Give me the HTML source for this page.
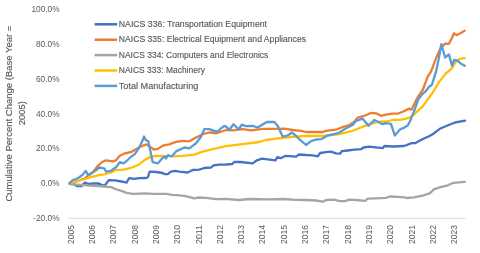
<!DOCTYPE html><html><head><meta charset="utf-8"><style>html,body{margin:0;padding:0;background:#fff;width:480px;height:253px;overflow:hidden}svg{display:block;will-change:transform}text{font-family:"Liberation Sans",sans-serif;fill:#595959}.b{stroke:#595959;stroke-width:0.15px}</style></head><body>
<svg width="480" height="253" viewBox="0 0 480 253">
<line x1="68.4" y1="218.3" x2="465.4" y2="218.3" stroke="#d9d9d9" stroke-width="1"/>
<text x="31.5" y="11.8" font-size="9.3" textLength="28.1" lengthAdjust="spacingAndGlyphs">100.0%</text>
<text x="35.9" y="46.7" font-size="9.3" textLength="23.7" lengthAdjust="spacingAndGlyphs">80.0%</text>
<text x="35.9" y="81.6" font-size="9.3" textLength="23.7" lengthAdjust="spacingAndGlyphs">60.0%</text>
<text x="35.9" y="116.5" font-size="9.3" textLength="23.7" lengthAdjust="spacingAndGlyphs">40.0%</text>
<text x="35.9" y="151.4" font-size="9.3" textLength="23.7" lengthAdjust="spacingAndGlyphs">20.0%</text>
<text x="41.1" y="186.3" font-size="9.3" textLength="18.5" lengthAdjust="spacingAndGlyphs">0.0%</text>
<text x="33.1" y="221.2" font-size="9.3" textLength="26.5" lengthAdjust="spacingAndGlyphs">-20.0%</text>
<text transform="translate(73.7,244) rotate(-90)" font-size="9.3" textLength="19" lengthAdjust="spacingAndGlyphs">2005</text>
<text transform="translate(95.0,244) rotate(-90)" font-size="9.3" textLength="19" lengthAdjust="spacingAndGlyphs">2006</text>
<text transform="translate(116.3,244) rotate(-90)" font-size="9.3" textLength="19" lengthAdjust="spacingAndGlyphs">2007</text>
<text transform="translate(137.6,244) rotate(-90)" font-size="9.3" textLength="19" lengthAdjust="spacingAndGlyphs">2008</text>
<text transform="translate(158.9,244) rotate(-90)" font-size="9.3" textLength="19" lengthAdjust="spacingAndGlyphs">2009</text>
<text transform="translate(180.2,244) rotate(-90)" font-size="9.3" textLength="19" lengthAdjust="spacingAndGlyphs">2010</text>
<text transform="translate(201.5,244) rotate(-90)" font-size="9.3" textLength="19" lengthAdjust="spacingAndGlyphs">2011</text>
<text transform="translate(222.8,244) rotate(-90)" font-size="9.3" textLength="19" lengthAdjust="spacingAndGlyphs">2012</text>
<text transform="translate(244.1,244) rotate(-90)" font-size="9.3" textLength="19" lengthAdjust="spacingAndGlyphs">2013</text>
<text transform="translate(265.4,244) rotate(-90)" font-size="9.3" textLength="19" lengthAdjust="spacingAndGlyphs">2014</text>
<text transform="translate(286.8,244) rotate(-90)" font-size="9.3" textLength="19" lengthAdjust="spacingAndGlyphs">2015</text>
<text transform="translate(308.1,244) rotate(-90)" font-size="9.3" textLength="19" lengthAdjust="spacingAndGlyphs">2016</text>
<text transform="translate(329.4,244) rotate(-90)" font-size="9.3" textLength="19" lengthAdjust="spacingAndGlyphs">2017</text>
<text transform="translate(350.7,244) rotate(-90)" font-size="9.3" textLength="19" lengthAdjust="spacingAndGlyphs">2018</text>
<text transform="translate(372.0,244) rotate(-90)" font-size="9.3" textLength="19" lengthAdjust="spacingAndGlyphs">2019</text>
<text transform="translate(393.3,244) rotate(-90)" font-size="9.3" textLength="19" lengthAdjust="spacingAndGlyphs">2020</text>
<text transform="translate(414.6,244) rotate(-90)" font-size="9.3" textLength="19" lengthAdjust="spacingAndGlyphs">2021</text>
<text transform="translate(435.9,244) rotate(-90)" font-size="9.3" textLength="19" lengthAdjust="spacingAndGlyphs">2022</text>
<text transform="translate(457.2,244) rotate(-90)" font-size="9.3" textLength="19" lengthAdjust="spacingAndGlyphs">2023</text>
<text class="b" transform="translate(12.3,201.6) rotate(-90)" font-size="9.7" textLength="175.9" lengthAdjust="spacingAndGlyphs">Cumulative Percent Change (Base Year =</text>
<text class="b" transform="translate(24.5,125.2) rotate(-90)" font-size="9.7" textLength="24" lengthAdjust="spacingAndGlyphs">2005)</text>
<polyline fill="none" stroke="#4472c4" stroke-width="2.3" stroke-linejoin="round" stroke-linecap="round" points="69.5,183.4 73,183.8 77,186.1 81.4,186.1 84.9,182.6 88.3,183.9 93.6,183.5 98.8,183.5 101.4,184.8 104,185.5 105,185.2 108.8,180.1 115.1,180.4 124,182 126.5,182.7 129,178.2 134.1,178.9 139.2,178.2 146,178 147.7,177.5 149.7,171.7 156,172 162.7,173 164.3,174.2 167.7,174.2 171,171.7 175.2,170.8 179.3,171.7 187.7,172.5 192.7,170 199.3,169.7 204.3,168 211,167.5 213.5,165.3 219.3,164.7 226,164.5 232.2,164 234.2,162 240.4,162 252.7,163.4 256.9,160.3 262,158.6 275.4,160.3 277.4,157.2 280.5,158.2 285.7,155.8 296,156.6 299,154.5 306,155 312.7,155.3 317.7,156.3 320.2,153 326,152.2 331,151.7 336,153.3 340.2,153.7 341.8,151.2 347.7,150.5 354.3,149.7 361,149.2 363.5,147.5 369.3,146.7 376,147.4 382.6,148.2 384.4,146 392.9,146.5 404.1,146 411.6,143.1 415.4,143.1 422.9,139 428.5,136.5 432.3,134.5 439.8,128.8 447.5,125.5 455,122.5 465.1,120.6"/>
<polyline fill="none" stroke="#ed7d31" stroke-width="2.3" stroke-linejoin="round" stroke-linecap="round" points="69.5,183.4 78,181 84.9,178.3 90.1,173.9 93.6,171.3 96,168.3 97.7,165.8 102.7,161.7 106,160.3 112.7,161.3 116,160.3 119.8,155.8 124.9,153.3 131.2,152 136.3,148.9 141.3,146.3 146.4,144.4 150.2,147 154,149.5 157.8,148.9 162.8,145.7 169.2,144.4 176,141.9 182.7,140.8 189.3,141.3 196,137.5 202.7,134.2 209.3,132.5 216,133.3 226,130 232.7,130.3 242.7,129.2 251,130.3 262.7,128.8 276,128.8 284.3,128.7 292.7,130 301,130.8 306,132 316,132 322.7,132 326,130.8 336,129.7 342.7,127 349.3,125 354.3,121.7 357.7,117.5 364.3,115.8 371,113 376,113.3 381,115.8 386,114.7 392.7,113.7 397.7,113.7 402.7,111.7 409.2,108.6 411.5,109.8 416,100.4 418.5,95.8 422.7,90 427.7,76.7 431,71.7 436,58.3 440.7,48 445.1,43.6 448.9,43.8 451.4,39 454,33.3 456.5,35.2 460.3,33.3 464.7,30.8"/>
<polyline fill="none" stroke="#a5a5a5" stroke-width="2.3" stroke-linejoin="round" stroke-linecap="round" points="69.5,183.4 71,184.3 81.4,184.8 90.1,185.7 98.7,186.2 104,186.5 111.3,187.1 115.1,189 121.4,190.9 126.5,192.8 132.8,193.8 146,193.3 152.3,193.9 166.3,193.9 172,194.8 180,195.3 187,196.3 194.1,198.4 199.2,197.5 206,197.8 216,199.2 226,198.8 238.3,200 250.7,199 267.2,199.4 283.6,199 296,199.8 306,200 316,200.5 322.7,201.7 326,200 334.3,199.7 339.3,201.2 345.2,201.2 349.3,199.7 356,200 365.2,200.8 367.7,198.7 376,198.3 386,197.8 389.8,196.5 397.3,196.9 404.8,197.3 406.6,198 414.1,197.3 423.5,195.4 430.1,193.1 433.8,189.4 440.4,187.1 447.9,185.3 453.5,182.8 459.2,182.4 464.8,181.9"/>
<polyline fill="none" stroke="#ffc000" stroke-width="2.3" stroke-linejoin="round" stroke-linecap="round" points="69.5,183.4 71,183 81.4,180 90.1,177.4 98.7,175.1 104,174.3 111.3,172.5 116,170.1 123.6,169.7 131.2,167.8 138.8,164.7 145.1,159.6 150.2,157.1 155.2,155.8 164.1,156.2 176,156.2 182.7,155.8 194.3,154.7 202.7,151.7 212.7,149.2 226,146.2 242.7,144.2 259.3,142 266,140 276,138.7 286,137.5 296,136.7 306,136 322.7,135.8 339.3,134.2 352.7,130.8 362.7,126.7 372.7,123.3 379.3,121.7 386,121.5 392.7,120 400,119.9 409.2,117.8 413.8,114.6 422.9,106.1 432.1,93.5 439,82.1 446,73.3 451.8,68.3 455.2,62.6 459.7,58.8 464.7,58.2"/>
<polyline fill="none" stroke="#5b9bd5" stroke-width="2.3" stroke-linejoin="round" stroke-linecap="round" points="69.5,183.4 72.7,180 76.2,179.1 79.7,177 83.1,174.3 85.7,170.9 87.9,174.8 90.1,174.3 92.7,172.6 95.3,170.9 99.3,167.5 104.3,168.3 106,171.7 111,170.8 116,167.2 119.8,162.2 123.6,163.4 127.4,160.3 129.9,157.7 135,153.9 138.8,148.2 142.6,140.6 144,136.5 145.7,140 148.3,141.3 152.7,162.2 157.8,163.4 162.8,157.7 164.8,156.5 166,158.5 167.9,155.2 171.7,156.5 176,151.4 184.3,147.5 189.3,148.3 196,143.3 201,136.7 204.3,129.2 209.3,129.2 214.3,130.8 217.7,131.7 221,128.3 224.3,125.8 226,126.7 229.3,129.7 233.5,124.2 238.5,129.2 241.8,124.7 246,126.2 252.7,125.8 257.7,127.5 266.8,122 274.3,122 277.7,125.8 282.7,136.7 286,135.8 288.5,135 291.8,132.5 296,135.8 299.3,139.2 306,145 311,141.2 316,139.5 321,139.2 327.7,135.5 334.3,134.2 339.3,132.5 346,128.3 352.7,125 356,120.8 362.7,118.7 368.5,125.8 374.3,120 379.3,122.5 382.7,124.2 386,123.2 391,123.8 394.8,135.6 400.4,129.1 404.1,127.8 407.9,125.3 410.7,119.7 413.8,111.9 418.3,99.3 421.8,94.7 426,90.8 429.3,86.5 431.8,85 436,71.7 438.5,60 441.3,44.2 445.1,57.5 448.9,54.4 452.1,65.7 454,60 457.8,60.7 460.3,63.2 464.7,65.7"/>
<line x1="94.6" y1="24.3" x2="117.2" y2="24.3" stroke="#4472c4" stroke-width="2.5"/>
<text class="b" x="118.8" y="27.0" font-size="9.3" textLength="148.2" lengthAdjust="spacingAndGlyphs">NAICS 336: Transportation Equipment</text>
<line x1="94.6" y1="39.7" x2="117.2" y2="39.7" stroke="#ed7d31" stroke-width="2.5"/>
<text class="b" x="118.8" y="42.4" font-size="9.3" textLength="187.2" lengthAdjust="spacingAndGlyphs">NAICS 335: Electrical Equipment and Appliances</text>
<line x1="94.6" y1="55.1" x2="117.2" y2="55.1" stroke="#a5a5a5" stroke-width="2.5"/>
<text class="b" x="118.8" y="57.8" font-size="9.3" textLength="149.5" lengthAdjust="spacingAndGlyphs">NAICS 334: Computers and Electronics</text>
<line x1="94.6" y1="70.5" x2="117.2" y2="70.5" stroke="#ffc000" stroke-width="2.5"/>
<text class="b" x="118.8" y="73.2" font-size="9.3" textLength="86.2" lengthAdjust="spacingAndGlyphs">NAICS 333: Machinery</text>
<line x1="94.6" y1="85.9" x2="117.2" y2="85.9" stroke="#5b9bd5" stroke-width="2.5"/>
<text class="b" x="118.8" y="88.6" font-size="9.3" textLength="79.5" lengthAdjust="spacingAndGlyphs">Total Manufacturing</text>
</svg></body></html>
